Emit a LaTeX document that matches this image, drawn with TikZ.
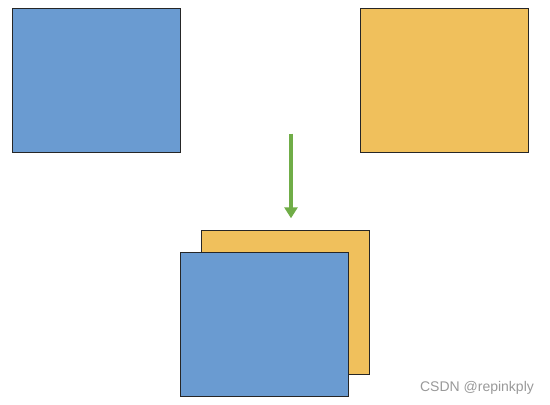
\documentclass[tikz,border=0pt]{standalone}
\usepackage{fontspec}
\setmainfont{Liberation Sans}
\usepackage{tikz}
\usetikzlibrary{arrows.meta}
\definecolor{sqblue}{HTML}{6A9BD1}
\definecolor{sqorange}{HTML}{F0C05C}
\definecolor{arrgreen}{HTML}{70AD47}

\begin{document}
\begin{tikzpicture}[x=1pt,y=-1pt]
        \useasboundingbox (0,0) rectangle (550,405);
        \begin{scope}[every node/.style={draw=black!85,line width=1pt,minimum width=168pt,minimum height=144pt,inner sep=0pt}]
            \node[fill=sqblue] (b1) at (96,80) {};
            \node[fill=sqorange] (o1) at (444,80) {};

            \node[fill=sqorange] (o2) at (285,302) {};
            \node[fill=sqblue] (b2) at (264,324) {};
        \end{scope}
        \node[inner sep=0pt] (top) at (291,133) {};
        \node[inner sep=0pt] (bot) at (291,219) {};
        \begin{scope}[every edge/.style={draw,arrgreen,line width=3.2pt}]
            \path [-{Triangle[length=11pt,width=13pt]}] (top) edge node {} (bot);
        \end{scope}
        \node[text=black!40,font=\fontsize{14}{16}\selectfont] (mark) at (477,388) {CSDN @repinkply};
    \end{tikzpicture}
\end{document}
